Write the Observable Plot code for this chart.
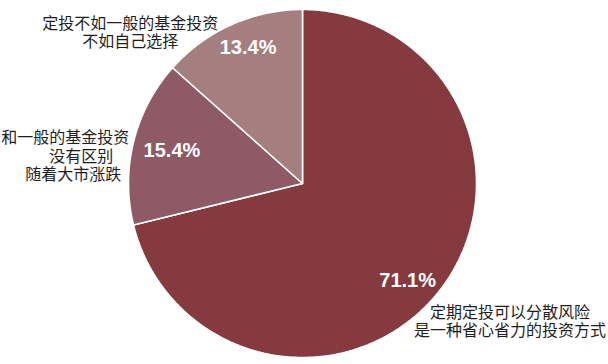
<!DOCTYPE html>
<html>
<head>
<meta charset="utf-8">
<script src="https://cdn.jsdelivr.net/npm/d3@7"></script>
<script src="https://cdn.jsdelivr.net/npm/@observablehq/plot@0.6"></script>
<style>
  html, body { margin: 0; padding: 0; background: #fff; }
</style>
</head>
<body>
<div id="chart"></div>
<script>
// ---- data ----
const categories = [
  "定期定投可以分散风险\n是一种省心省力的投资方式",
  "和一般的基金投资\n　　没有区别\n　随着大市涨跌",
  "定投不如一般的基金投资\n不如自己选择"
];
const shares = [71.1, 15.4, 13.4];
const sliceColors = ["#853A40", "#8D5A66", "#A57E80"];

// ---- layout (label placement in polar terms: angle in degrees clockwise from top, radius as fraction of R) ----
const pctLabelAngle = [132.7, 284.2, 338.2];
const pctLabelRadius = [0.822, 0.774, 0.842];
const catLabelAngle = [123.5, 276.7, 311.3];
const catLabelRadius = [1.43, 1.373, 1.317];

const W = 608, H = 364, CX = 302, CY = 183, R = 174;

const arcs = d3.pie().sort(null).value(d => d)(shares);
const rows = arcs.map((a, i) => ({
  key: categories[i],
  value: shares[i],
  start: a.startAngle,
  end: a.endAngle,
  i
}));

// polygon outline of each slice (centre -> arc -> centre), in unit-radius coordinates
const outline = rows.flatMap(r => {
  const pts = [{key: r.key, x: 0, y: 0}];
  const n = Math.max(2, Math.ceil((r.end - r.start) / (Math.PI / 360)));
  for (let k = 0; k <= n; k++) {
    const a = r.start + (r.end - r.start) * k / n;
    pts.push({key: r.key, x: Math.sin(a), y: Math.cos(a)});
  }
  pts.push({key: r.key, x: 0, y: 0});
  return pts;
});

const polar = (deg, rad) => {
  const a = deg * Math.PI / 180;
  return [rad * Math.sin(a), rad * Math.cos(a)];
};

const chart = Plot.plot({
  width: W,
  height: H,
  margin: 0,
  style: {background: "#fff"},
  x: {domain: [-CX / R, (W - CX) / R], range: [0, W], axis: null},
  y: {domain: [-(H - CY) / R, CY / R], range: [H, 0], axis: null},
  color: {domain: categories, range: sliceColors},
  marks: [
    Plot.line(outline, {
      x: "x", y: "y", z: "key", fill: "key",
      stroke: "white", strokeWidth: 1.6, strokeLinejoin: "miter", curve: "linear"
    }),
    Plot.text(rows, {
      x: d => polar(pctLabelAngle[d.i], pctLabelRadius[d.i])[0],
      y: d => polar(pctLabelAngle[d.i], pctLabelRadius[d.i])[1],
      text: d => d.value.toFixed(1) + "%",
      fill: "white",
      fontSize: 20,
      fontWeight: "bold",
      fontFamily: "'Liberation Sans', Arial, sans-serif"
    }),
    Plot.text(rows, {
      x: d => polar(catLabelAngle[d.i], catLabelRadius[d.i])[0],
      y: d => polar(catLabelAngle[d.i], catLabelRadius[d.i])[1],
      text: "key",
      fill: "#1e1e1e",
      fontSize: 16,
      lineHeight: 1.15,
      fontFamily: "'Noto Sans CJK SC', sans-serif"
    })
  ]
});

document.getElementById("chart").appendChild(chart);
</script>
</body>
</html>
